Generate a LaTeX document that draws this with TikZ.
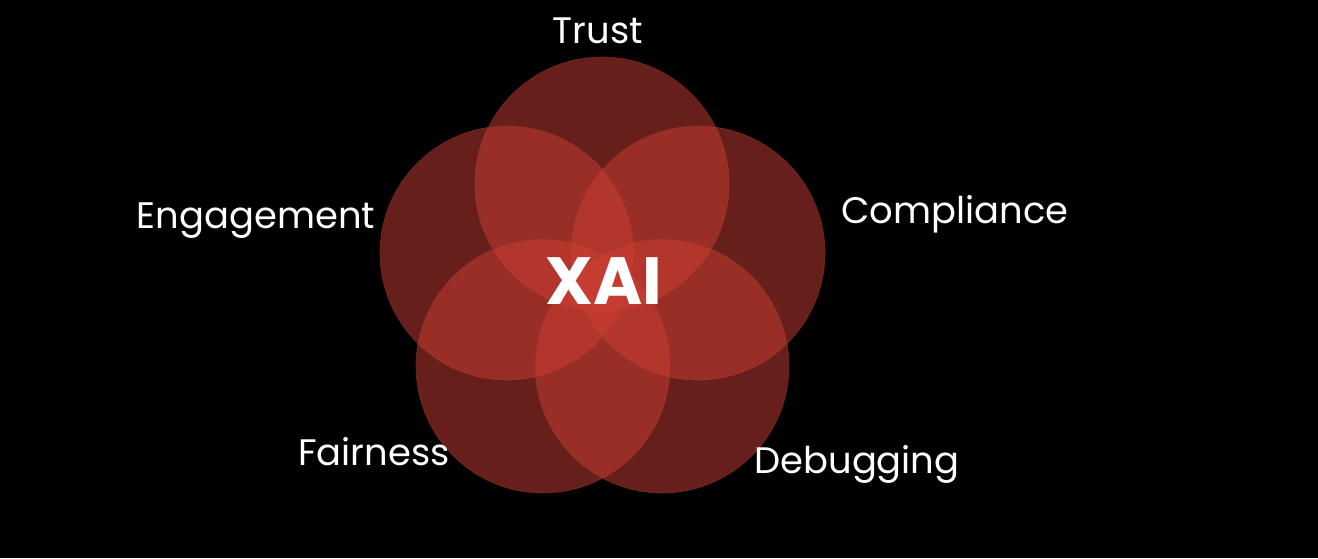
\documentclass[tikz,border=0pt]{standalone}
\usepackage{fontspec}
\setmainfont{Poppins}
\begin{document}
\begin{tikzpicture}[x=0.02cm,y=-0.02cm]
    \tikzset{
    petal/.style={circle,minimum size=5.08cm,inner sep=0pt,fill={rgb,255:red,205;green,62;blue,52},fill opacity=0.5,draw={rgb,255:red,140;green,50;blue,45},draw opacity=0.6},
    lab/.style={text=white,font=\fontsize{21}{24}\selectfont},
    }
    \fill[black] (0,0) rectangle (1318,558);
    \node[petal] (c1) at (602,184) {};
    \node[petal] (c2) at (698,253) {};
    \node[petal] (c3) at (507,253) {};
    \node[petal] (c4) at (543,366) {};
    \node[petal] (c5) at (662,366) {};

    \node[text=white,font=\fontsize{38}{40}\selectfont\bfseries] (xai) at (604,281) {XAI};
    \node[lab] (trust) at (598,31) {Trust};
    \node[lab] (comp) at (955,214) {Compliance};
    \node[lab] (eng) at (256,221) {Engagement};
    \node[lab] (fair) at (374,452) {Fairness};
    \node[lab] (debug) at (857,464) {Debugging};
\end{tikzpicture}
\end{document}
